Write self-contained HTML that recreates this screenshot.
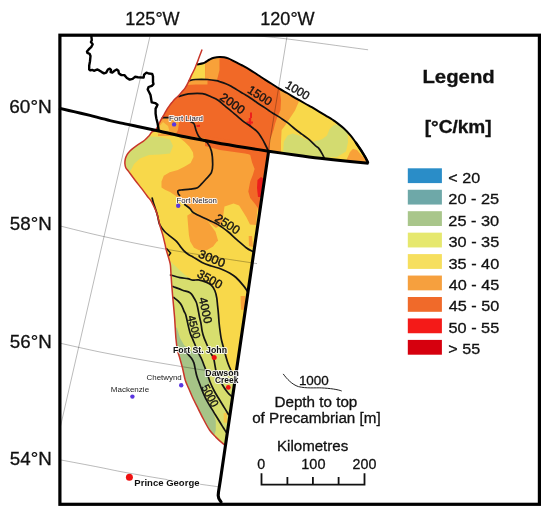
<!DOCTYPE html>
<html><head><meta charset="utf-8"><title>Heat flow map</title>
<style>html,body{margin:0;padding:0;background:#fff;overflow:hidden;}svg{display:block;}</style>
</head><body>
<svg width="550" height="515" viewBox="0 0 550 515">
<defs><clipPath id="rc"><path d="M197.1,64.4 L203.1,63.3 L206.5,61.5 L209.6,59.5 L214.0,57.7 L219.5,56.9 L224.0,57.3 L228.2,58.4 L235.8,62.2 L242.4,65.5 L250.0,69.8 L257.9,75.0 L265.0,79.6 L272.0,84.0 L279.3,88.6 L287.0,93.0 L295.0,97.8 L305.0,103.5 L311.8,107.2 L318.6,111.3 L325.4,115.4 L332.2,119.5 L337.0,122.9 L343.7,128.3 L350.7,135.7 L355.9,142.7 L361.2,150.5 L365.5,157.5 L367.8,162.0 L368.2,163.0 L350.0,161.6 L320.0,158.3 L295.0,155.0 L268.6,151.4 L225.6,444.5 L225.0,444.5 L223.3,443.9 L215.8,437.1 L209.7,430.3 L203.6,419.5 L198.1,408.6 L192.7,397.7 L188.6,388.2 L185.2,380.0 L182.5,368.0 L180.0,359.0 L177.5,350.0 L175.9,338.2 L174.5,316.4 L172.5,294.5 L171.0,274.4 L170.4,265.0 L169.4,260.6 L168.0,255.8 L166.0,249.0 L165.0,244.1 L162.6,234.4 L159.7,224.7 L157.0,213.7 L154.1,206.9 L151.2,201.1 L147.3,196.2 L141.5,188.4 L134.7,179.7 L127.9,170.5 L125.8,167.7 L124.9,163.8 L125.3,159.0 L126.8,155.1 L129.7,151.2 L133.6,147.8 L138.4,144.4 L144.3,140.5 L149.1,135.7 L152.0,131.8 L155.0,130.6 L157.3,127.3 L159.4,123.0 L160.8,120.0 L163.2,116.0 L165.5,111.9 L168.4,107.2 L171.9,102.6 L175.4,98.5 L177.7,96.6 L181.8,91.9 L185.2,87.9 L188.6,81.7 L191.3,75.6 L194.7,68.8 L197.4,62.0 L199.6,56.0 Z"/></clipPath></defs>
<g clip-path="url(#rc)">
<polygon points="100.0,20.0 400.0,20.0 400.0,470.0 100.0,470.0" fill="#f8d84a"/>
<polygon points="150.0,30.0 380.0,30.0 380.0,164.3 368.5,164.3 350.0,162.6 320.0,159.3 295.0,156.0 268.6,152.2 245.0,148.5 215.0,143.5 185.0,137.8 160.0,132.3 140.0,128.0" fill="#f16927"/>
<polygon points="279.0,84.0 281.0,100.0 280.5,110.0 277.0,118.0 275.0,124.0 273.5,130.0 270.0,140.0 269.5,153.0 380.0,175.0 380.0,60.0" fill="#f8a139"/>
<polygon points="298.0,96.0 300.0,99.0 295.0,110.5 289.2,119.2 284.6,126.2 281.6,130.0 281.0,142.0 281.0,155.0 346.0,161.0 350.0,152.0 353.0,148.8 357.0,150.0 362.0,156.0 370.0,162.0 360.0,140.0 340.0,115.0 320.0,100.0" fill="#f8d84a"/>
<polygon points="283.8,141.8 287.6,135.5 292.7,133.5 299.0,135.5 305.5,139.3 313.0,141.8 322.0,139.3 327.0,135.5 329.6,129.1 333.5,125.3 338.5,124.0 343.6,126.5 347.5,130.0 348.0,142.3 346.0,151.4 337.0,157.0 321.0,158.0 297.3,155.0 283.0,153.0" fill="#d3db70"/>
<polygon points="190.0,66.0 205.0,61.0 205.5,79.0 188.0,82.0" fill="#f8d84a"/>
<polygon points="205.0,60.0 219.5,56.0 219.5,70.0 217.0,80.0 205.5,80.0" fill="#f8a139"/>
<polygon points="186.0,80.5 196.0,80.0 207.5,80.2 207.5,84.6 196.0,84.6 186.0,85.0" fill="#f8a139"/>
<polygon points="158.0,124.0 165.0,117.0 177.0,118.0 179.0,123.0 178.0,130.0 175.0,136.0 158.0,136.0" fill="#f8a139"/>
<polygon points="158.0,128.0 163.0,122.0 168.0,126.0 170.0,133.0 158.0,134.0" fill="#f7c848"/>
<polygon points="250.0,112.5 252.0,112.5 252.0,118.0 250.0,118.0" fill="#ec1f1c"/>
<polygon points="248.8,118.0 251.2,118.0 251.2,127.0 248.8,127.0" fill="#ec1f1c"/>
<polygon points="246.5,121.5 253.0,121.5 253.0,123.5 246.5,123.5" fill="#ec1f1c"/>
<polygon points="196.5,125.0 200.0,124.8 200.0,126.8 196.5,127.0" fill="#ec1f1c"/>
<polygon points="146.0,136.0 152.0,136.5 160.0,137.0 170.0,139.5 173.0,146.0 170.0,153.5 160.0,154.5 149.0,155.0 140.0,158.5 134.0,164.0 131.0,170.0 128.0,174.0 123.0,168.0 123.0,158.0 130.0,149.0 138.0,142.0" fill="#d3db70"/>
<polygon points="176.0,134.0 179.0,137.3 184.8,142.0 189.5,146.7 193.0,152.5 193.5,157.1 190.6,163.0 184.8,166.5 177.8,170.0 169.7,172.3 163.8,175.8 161.5,181.6 161.5,187.4 165.0,189.8 170.0,192.0 176.0,196.0 178.6,200.0 185.5,203.0 190.9,210.0 199.1,214.1 208.2,221.8 216.0,228.0 222.0,224.0 224.5,206.4 233.6,203.6 239.1,205.5 246.4,217.3 250.0,224.5 256.0,225.0 262.0,160.0 262.0,147.0" fill="#f8a139"/>
<polygon points="187.3,215.5 191.8,212.7 199.1,213.6 208.2,221.8 215.5,231.8 218.2,240.9 216.9,241.4 213.1,246.5 206.7,250.3 199.1,250.3 194.0,247.7 190.2,241.4 188.9,235.0" fill="#f8a139"/>
<polygon points="205.0,136.0 268.0,146.0 268.0,158.0 245.0,153.5 220.0,150.0 205.0,146.0" fill="#f16927"/>
<polygon points="242.0,148.0 250.2,155.0 252.1,162.6 254.6,168.9 252.7,175.2 250.2,181.5 248.3,191.6 250.2,197.9 255.3,204.2 257.8,208.0 258.4,215.0 270.0,215.0 270.0,146.0" fill="#f16927"/>
<polygon points="257.5,180.0 261.0,177.0 264.0,179.0 263.0,197.0 258.0,197.0 257.0,188.0" fill="#ec1f1c"/>
<polygon points="248.7,236.0 252.0,236.0 253.0,247.0 249.0,246.0" fill="#f8a139"/>
<polygon points="240.6,296.0 245.0,296.0 246.0,309.7 241.0,309.7" fill="#f8a139"/>
<polygon points="166.0,255.0 171.0,262.0 185.0,275.0 193.0,280.0 198.5,280.6 206.7,283.2 211.3,286.0 214.9,291.5 216.8,298.1 217.6,305.9 218.4,313.6 219.1,323.0 220.2,332.0 221.5,340.0 224.9,352.7 227.6,362.2 230.3,369.0 233.0,374.0 236.0,377.0 242.0,380.0 242.0,460.0 150.0,460.0 150.0,255.0" fill="#d7de6e"/>
<polygon points="174.0,326.0 177.0,328.0 180.0,338.0 184.0,345.0 190.0,350.0 198.8,353.5 201.6,359.0 204.0,365.2 206.3,371.4 208.5,377.5 209.5,383.0 205.0,390.0 203.5,393.6 207.7,402.2 211.7,407.0 215.8,421.0 215.8,430.0 214.0,437.0 208.0,442.0 195.0,430.0 185.0,410.0 178.0,390.0 172.0,360.0 172.0,335.0" fill="#a6c487"/>
<polygon points="223.7,413.0 227.0,413.0 227.0,422.7 223.7,422.7" fill="#f7c848"/>
</g>
<path d="M149.8,37 L60,428.5" stroke="#000" stroke-opacity="0.32" stroke-width="0.85" fill="none"/>
<path d="M286.9,37 L268.3,151" stroke="#000" stroke-opacity="0.32" stroke-width="0.85" fill="none"/>
<path d="M250.0,35.3 C256.1,35.9 267.0,36.5 286.7,38.9 C306.4,41.3 354.5,48.0 368.1,49.8" stroke="#000" stroke-opacity="0.32" stroke-width="0.85" fill="none"/>
<path d="M61.0,226.2 C68.1,227.9 87.3,232.9 103.5,236.5 C119.7,240.1 141.1,244.5 158.0,247.7 C174.9,250.9 189.5,253.1 205.0,255.6 C220.5,258.1 242.2,261.4 250.9,262.7 C259.6,264.0 256.0,263.5 257.0,263.6" stroke="#000" stroke-opacity="0.32" stroke-width="0.85" fill="none"/>
<path d="M61.0,343.4 C67.5,344.8 86.8,349.3 100.0,352.0 C113.2,354.7 126.7,357.1 140.0,359.5 C153.3,361.9 168.8,364.4 180.0,366.3 C191.2,368.2 197.5,369.2 207.2,370.6 C216.9,372.1 232.9,374.3 238.0,375.0" stroke="#000" stroke-opacity="0.32" stroke-width="0.85" fill="none"/>
<path d="M61.0,460.0 C67.5,461.2 89.3,465.3 100.0,467.4 C110.7,469.5 113.3,470.3 125.0,472.4 C136.7,474.5 155.0,477.7 170.0,480.0 C185.0,482.3 206.8,485.1 215.0,486.3 C223.2,487.5 218.8,486.9 219.5,487.0" stroke="#000" stroke-opacity="0.32" stroke-width="0.85" fill="none"/>
<path d="M189.3,80.6 C190.3,80.4 192.3,79.7 195.4,79.5 C198.5,79.3 204.2,79.3 207.7,79.5 C211.2,79.7 214.3,80.3 216.4,80.7 C218.5,81.1 218.4,81.2 220.0,81.7 C221.6,82.2 223.9,82.9 225.8,83.7 C227.7,84.5 229.7,85.5 231.6,86.6 C233.5,87.7 235.6,88.9 237.5,90.1 C239.4,91.3 241.2,92.3 243.3,93.6 C245.4,94.9 247.8,96.2 250.0,97.7 C252.2,99.2 254.4,100.8 256.8,102.5 C259.2,104.2 262.5,106.1 264.7,107.6 C266.9,109.1 268.1,110.2 270.0,111.4 C271.9,112.6 273.9,113.7 275.8,114.9 C277.7,116.1 279.7,117.3 281.6,118.6 C283.6,119.9 285.3,121.0 287.5,122.7 C289.7,124.4 292.6,127.1 295.0,129.0 C297.4,130.9 299.5,132.4 301.8,134.1 C304.1,135.8 306.3,137.3 308.6,139.2 C310.9,141.1 313.7,144.2 315.4,145.7 C317.1,147.2 317.7,147.1 318.8,148.4 C319.9,149.8 321.3,152.2 322.2,153.8 C323.1,155.4 323.9,157.3 324.2,158.0" stroke="#141414" stroke-width="1.7" fill="none" stroke-linejoin="round" stroke-linecap="round"/>
<path d="M178.8,96.5 C180.4,96.1 184.5,94.4 188.4,93.9 C192.3,93.4 198.6,93.1 202.4,93.6 C206.2,94.1 208.9,95.9 211.5,97.0 C214.1,98.1 215.9,98.8 218.1,100.3 C220.3,101.8 222.4,103.9 224.6,105.7 C226.8,107.5 229.0,109.4 231.2,111.2 C233.4,113.0 235.5,114.8 237.7,116.6 C239.9,118.4 242.1,120.4 244.3,122.1 C246.5,123.8 248.6,124.9 250.8,126.5 C253.0,128.1 255.6,130.1 257.4,131.9 C259.2,133.8 260.2,135.6 261.5,137.6 C262.8,139.6 263.9,141.8 265.0,144.0 C266.1,146.2 267.8,149.8 268.3,151.0" stroke="#141414" stroke-width="1.7" fill="none" stroke-linejoin="round" stroke-linecap="round"/>
<path d="M162.5,117.6 L169.0,117.6" stroke="#141414" stroke-width="1.7" fill="none" stroke-linejoin="round" stroke-linecap="round"/>
<path d="M190.5,121.6 C191.1,122.0 193.2,122.5 194.1,123.9 C195.0,125.3 195.2,128.0 195.9,130.0 C196.6,132.0 197.5,134.4 198.5,136.0 C199.5,137.6 200.5,138.5 202.0,139.6 C203.5,140.7 205.7,140.8 207.3,142.7 C208.9,144.6 210.5,147.4 211.4,151.0 C212.3,154.6 212.7,160.9 212.7,164.5 C212.7,168.1 212.5,170.3 211.4,172.7 C210.3,175.1 207.6,177.2 206.0,179.0 C204.4,180.8 203.2,182.2 201.8,183.6 C200.4,185.0 199.4,186.8 197.5,187.7 C195.6,188.6 192.9,188.7 190.2,189.1 C187.4,189.5 183.1,189.7 181.0,190.0 C178.9,190.3 178.3,190.2 177.9,190.9 C177.5,191.6 178.1,193.4 178.4,194.1 C178.7,194.8 179.4,195.1 179.6,195.3" stroke="#141414" stroke-width="1.7" fill="none" stroke-linejoin="round" stroke-linecap="round"/>
<path d="M184.7,204.5 C185.6,205.2 188.7,207.4 190.2,208.8 C191.7,210.2 190.9,211.0 193.6,212.7 C196.3,214.4 202.9,217.4 206.4,219.1 C209.9,220.8 212.1,221.5 214.5,222.7 C216.9,223.9 218.7,224.9 221.0,226.5 C223.3,228.1 225.7,229.7 228.4,232.0 C231.1,234.3 234.3,237.5 237.3,240.1 C240.3,242.7 243.6,245.8 246.2,247.7 C248.8,249.6 251.6,250.9 252.7,251.5" stroke="#141414" stroke-width="1.7" fill="none" stroke-linejoin="round" stroke-linecap="round"/>
<path d="M152.2,198.2 C152.4,199.1 153.0,201.7 153.6,203.5 C154.2,205.3 154.8,206.9 155.5,209.0 C156.2,211.1 156.9,213.4 157.6,216.0 C158.3,218.6 158.5,222.1 159.7,224.7 C160.9,227.3 162.8,229.6 164.6,231.5 C166.4,233.4 168.5,234.8 170.4,236.4 C172.3,238.0 174.6,239.6 176.2,241.2 C177.8,242.8 178.8,244.5 180.1,246.1 C181.4,247.7 182.6,249.4 184.0,250.9 C185.4,252.4 187.3,253.8 188.8,254.8 C190.3,255.8 190.8,255.6 193.0,256.9 C195.2,258.2 199.0,260.9 202.1,262.4 C205.2,263.9 208.2,264.9 211.3,266.0 C214.4,267.1 217.3,267.5 220.4,268.7 C223.5,269.9 227.4,271.8 230.0,273.3 C232.6,274.8 233.7,275.4 236.0,277.5 C238.3,279.6 241.7,283.6 243.6,285.9 C245.5,288.2 246.8,290.6 247.5,291.5" stroke="#141414" stroke-width="1.7" fill="none" stroke-linejoin="round" stroke-linecap="round"/>
<path d="M170.5,275.0 C172.1,275.4 177.2,277.0 180.0,277.6 C182.8,278.2 185.4,278.2 187.6,278.6 C189.8,279.0 191.2,280.0 193.0,280.2 C194.8,280.4 196.2,279.5 198.5,279.9 C200.8,280.3 204.6,281.5 206.7,282.4 C208.8,283.3 209.9,283.8 211.3,285.2 C212.7,286.6 214.0,288.5 214.9,290.7 C215.8,292.9 216.4,295.6 216.8,298.1 C217.2,300.6 217.3,303.3 217.6,305.9 C217.9,308.5 218.2,310.8 218.4,313.6 C218.7,316.5 218.8,319.9 219.1,323.0 C219.4,326.1 219.8,329.2 220.2,332.0 C220.6,334.8 220.7,336.6 221.5,340.0 C222.3,343.4 223.9,349.0 224.9,352.7 C225.9,356.4 226.7,359.5 227.6,362.2 C228.5,364.9 229.4,367.0 230.3,369.0 C231.2,371.0 232.1,372.7 233.0,374.0 C233.9,375.3 235.5,376.5 236.0,377.0" stroke="#141414" stroke-width="1.7" fill="none" stroke-linejoin="round" stroke-linecap="round"/>
<path d="M173.0,286.5 C174.6,287.1 179.7,289.2 182.5,290.2 C185.3,291.2 188.2,291.6 190.0,292.7 C191.8,293.8 192.1,294.9 193.1,296.5 C194.1,298.1 195.4,300.1 196.2,302.0 C197.0,303.9 197.3,305.9 197.8,308.2 C198.3,310.5 198.8,313.5 199.3,316.0 C199.8,318.5 200.4,320.5 200.9,323.0 C201.4,325.5 201.6,328.4 202.1,330.8 C202.6,333.2 203.3,335.7 204.0,337.6 C204.7,339.6 204.9,339.9 206.0,342.5 C207.1,345.1 209.6,350.6 210.8,353.2 C212.1,355.8 212.8,356.2 213.5,358.0 C214.2,359.8 214.2,361.5 214.7,363.8 C215.1,366.1 215.6,369.9 216.2,371.6 C216.8,373.3 216.9,371.8 218.0,374.0 C219.1,376.2 220.8,381.9 222.5,385.0 C224.2,388.1 226.5,391.0 227.9,392.8 C229.3,394.6 230.3,395.2 231.2,396.0 C232.0,396.8 232.7,397.2 233.0,397.5" stroke="#141414" stroke-width="1.7" fill="none" stroke-linejoin="round" stroke-linecap="round"/>
<path d="M173.7,297.5 C174.4,298.1 176.7,299.6 178.0,300.9 C179.3,302.2 180.5,303.5 181.5,305.2 C182.5,306.9 183.4,309.7 184.1,311.3 C184.8,312.9 185.2,312.9 185.8,315.0 C186.4,317.1 187.2,321.1 187.9,324.1 C188.6,327.1 189.4,330.7 190.2,333.2 C191.0,335.7 191.9,337.2 192.8,339.3 C193.7,341.4 194.5,343.6 195.5,346.0 C196.5,348.4 197.8,351.3 198.8,353.5 C199.8,355.7 200.7,357.1 201.6,359.0 C202.5,360.9 203.2,363.1 204.0,365.2 C204.8,367.3 205.6,369.3 206.3,371.4 C207.1,373.4 207.8,375.6 208.5,377.5 C209.2,379.4 209.6,380.8 210.5,383.0 C211.4,385.2 212.7,387.9 214.0,390.5 C215.3,393.1 217.0,395.7 218.6,398.3 C220.2,400.9 221.9,403.7 223.3,406.0 C224.7,408.3 226.2,410.8 227.1,412.2 C228.0,413.6 228.3,414.1 228.5,414.5" stroke="#141414" stroke-width="1.7" fill="none" stroke-linejoin="round" stroke-linecap="round"/>
<path d="M186.0,351.5 C186.2,351.8 186.4,352.4 187.3,353.5 C188.2,354.6 190.4,356.6 191.5,358.2 C192.6,359.8 193.2,360.9 193.9,362.9 C194.6,364.8 194.9,367.7 195.4,369.9 C195.9,372.1 196.2,373.9 196.8,376.0 C197.4,378.1 198.1,380.0 199.2,382.8 C200.2,385.6 201.7,389.6 203.1,392.8 C204.5,396.0 206.1,399.4 207.7,402.2 C209.2,405.0 211.1,407.8 212.4,409.9 C213.7,412.0 214.3,413.1 215.5,415.0 C216.7,416.9 218.2,419.3 219.5,421.5 C220.8,423.7 222.4,426.2 223.5,428.0 C224.6,429.8 225.6,431.3 226.0,432.0" stroke="#141414" stroke-width="1.7" fill="none" stroke-linejoin="round" stroke-linecap="round"/>
<path d="M197.1,64.4 C198.1,64.2 201.5,63.8 203.1,63.3 C204.7,62.8 205.4,62.1 206.5,61.5 C207.6,60.9 208.3,60.1 209.6,59.5 C210.8,58.9 212.3,58.1 214.0,57.7 C215.7,57.3 217.8,57.0 219.5,56.9 C221.2,56.8 222.6,57.0 224.0,57.3 C225.4,57.5 226.2,57.6 228.2,58.4 C230.2,59.2 233.4,61.0 235.8,62.2 C238.2,63.4 240.0,64.2 242.4,65.5 C244.8,66.8 247.4,68.2 250.0,69.8 C252.6,71.4 255.4,73.4 257.9,75.0 C260.4,76.6 262.6,78.1 265.0,79.6 C267.4,81.1 269.6,82.5 272.0,84.0 C274.4,85.5 276.8,87.1 279.3,88.6 C281.8,90.1 284.4,91.5 287.0,93.0 C289.6,94.5 292.0,96.0 295.0,97.8 C298.0,99.5 302.2,101.9 305.0,103.5 C307.8,105.1 309.5,105.9 311.8,107.2 C314.1,108.5 316.3,109.9 318.6,111.3 C320.9,112.7 323.1,114.0 325.4,115.4 C327.7,116.8 330.3,118.2 332.2,119.5 C334.1,120.8 335.1,121.4 337.0,122.9 C338.9,124.4 341.4,126.2 343.7,128.3 C346.0,130.4 348.7,133.3 350.7,135.7 C352.7,138.1 354.1,140.2 355.9,142.7 C357.6,145.2 359.6,148.0 361.2,150.5 C362.8,153.0 364.4,155.6 365.5,157.5 C366.6,159.4 367.4,161.2 367.8,162.0" stroke="#000" stroke-width="2" fill="none" stroke-linejoin="round"/>
<path d="M355.9,142.7 L361.2,150.5 L365.5,157.5 L368,162.6" stroke="#000" stroke-width="2.4" fill="none" stroke-linecap="round"/>
<path d="M166.3,248.2 L170.6,253 L168.3,256.4" stroke="#111" stroke-width="1.5" fill="none"/>
<path d="M202.1,49.6 C201.7,50.7 200.4,53.9 199.6,56.0 C198.8,58.1 198.2,59.9 197.4,62.0 C196.6,64.1 195.7,66.5 194.7,68.8 C193.7,71.1 192.3,73.4 191.3,75.6 C190.3,77.8 189.6,79.7 188.6,81.7 C187.6,83.8 186.3,86.2 185.2,87.9 C184.1,89.6 183.1,90.5 181.8,91.9 C180.6,93.4 178.8,95.5 177.7,96.6 C176.6,97.7 176.4,97.5 175.4,98.5 C174.4,99.5 173.1,101.1 171.9,102.6 C170.7,104.0 169.5,105.7 168.4,107.2 C167.3,108.8 166.4,110.4 165.5,111.9 C164.6,113.4 164.0,114.7 163.2,116.0 C162.4,117.3 161.4,118.8 160.8,120.0 C160.2,121.2 160.0,121.8 159.4,123.0 C158.8,124.2 158.0,126.0 157.3,127.3 C156.6,128.6 155.9,129.8 155.0,130.6 C154.1,131.3 153.0,131.0 152.0,131.8 C151.0,132.7 150.4,134.2 149.1,135.7 C147.8,137.1 146.1,139.1 144.3,140.5 C142.5,141.9 140.2,143.2 138.4,144.4 C136.6,145.6 135.1,146.7 133.6,147.8 C132.1,148.9 130.8,150.0 129.7,151.2 C128.6,152.4 127.5,153.8 126.8,155.1 C126.1,156.4 125.6,157.6 125.3,159.0 C125.0,160.4 124.8,162.4 124.9,163.8 C125.0,165.2 125.3,166.6 125.8,167.7 C126.3,168.8 126.4,168.5 127.9,170.5 C129.4,172.5 132.4,176.7 134.7,179.7 C137.0,182.7 139.4,185.7 141.5,188.4 C143.6,191.2 145.7,194.1 147.3,196.2 C148.9,198.3 150.1,199.3 151.2,201.1 C152.3,202.9 153.1,204.8 154.1,206.9 C155.1,209.0 156.1,210.7 157.0,213.7 C157.9,216.7 158.8,221.2 159.7,224.7 C160.6,228.1 161.7,231.2 162.6,234.4 C163.5,237.6 164.4,241.7 165.0,244.1 C165.6,246.5 165.5,247.1 166.0,249.0 C166.5,250.9 167.4,253.9 168.0,255.8 C168.6,257.7 169.0,259.1 169.4,260.6 C169.8,262.1 170.1,262.7 170.4,265.0 C170.7,267.3 170.7,269.5 171.0,274.4 C171.3,279.3 171.9,287.5 172.5,294.5 C173.1,301.5 173.9,309.1 174.5,316.4 C175.1,323.7 175.4,332.6 175.9,338.2 C176.4,343.8 176.8,346.5 177.5,350.0 C178.2,353.5 179.2,356.0 180.0,359.0 C180.8,362.0 181.6,364.5 182.5,368.0 C183.4,371.5 184.2,376.6 185.2,380.0 C186.2,383.4 187.3,385.2 188.6,388.2 C189.8,391.1 191.1,394.3 192.7,397.7 C194.3,401.1 196.3,405.0 198.1,408.6 C199.9,412.2 201.7,415.9 203.6,419.5 C205.5,423.1 207.7,427.4 209.7,430.3 C211.7,433.2 213.5,434.8 215.8,437.1 C218.1,439.4 221.8,442.7 223.3,443.9 C224.8,445.1 224.7,444.4 225.0,444.5" stroke="#c8362a" stroke-width="1.5" fill="none" stroke-linejoin="round"/>
<path d="M59.0,108.1 C61.7,108.7 69.8,110.7 75.0,111.9 C80.2,113.1 84.2,114.0 90.0,115.4 C95.8,116.9 104.2,119.2 110.0,120.6 C115.8,122.0 120.0,122.8 125.0,123.9 C130.0,125.0 134.2,125.8 140.0,127.0 C145.8,128.2 152.5,129.7 160.0,131.3 C167.5,132.9 175.8,134.9 185.0,136.8 C194.2,138.7 205.0,140.7 215.0,142.5 C225.0,144.3 236.1,146.1 245.0,147.5 C253.9,148.9 260.3,149.9 268.6,151.2 C276.9,152.4 286.4,153.8 295.0,155.0 C303.6,156.2 310.8,157.2 320.0,158.3 C329.2,159.4 341.9,160.8 350.0,161.6 C358.1,162.4 365.4,163.0 368.5,163.3" stroke="#000" stroke-width="3" fill="none" stroke-linejoin="round"/>
<path d="M268.6,151.4 L220.4,480.0 L218.5,492.0 L218.2,495.5 L218.8,498.5 L220.3,500.8 L221.6,503.0" stroke="#000" stroke-width="3.1" fill="none" stroke-linejoin="round"/>
<path d="M91.4,35.0 L91.4,36.7 L91.8,40.2 L90.9,42.0 L92.7,44.2 L91.4,46.8 L88.7,49.4 L87.0,51.6 L87.4,52.9 L89.6,53.8 L90.5,56.0 L90.0,61.2 L89.2,65.6 L89.2,69.5 L90.5,70.4 L92.2,69.9 L94.4,70.8 L96.2,69.9 L97.5,69.5 L99.2,70.4 L101.8,72.1 L104.0,73.4 L106.2,72.6 L107.9,69.5 L109.7,68.6 L111.0,69.9 L110.6,72.1 L112.3,72.6 L114.5,70.8 L116.7,69.5 L118.4,70.8 L118.9,73.4 L119.5,73.9 L121.5,75.1 L124.4,75.1 L126.9,78.0 L129.7,79.6 L132.6,78.8 L135.0,76.8 L137.9,77.2 L143.6,77.6 L144.1,74.7 L146.5,72.7 L148.6,73.5 L152.2,73.9 L153.0,76.4 L153.0,82.1 L153.5,84.1 L151.8,85.8 L148.6,87.0 L147.7,89.5 L149.4,92.7 L150.5,95.0 L151.3,99.7 L151.7,102.4 L155.2,103.1 L157.5,104.7 L156.7,106.6 L155.6,108.6 L155.6,113.6 L156.3,118.3 L157.5,122.9 L158.3,127.6 L158.7,131.0" stroke="#000" stroke-width="2.4" fill="none" stroke-linejoin="round"/>
<rect x="59.9" y="35.2" width="479.5" height="469.1" fill="none" stroke="#000" stroke-width="3.2"/>
<text transform="translate(125.24,25.10) scale(0.975,1)" font-family="Liberation Sans, Arial, Helvetica, sans-serif" font-size="18.55" fill="#111" stroke="#111" stroke-width="0.3">125°W</text>
<text transform="translate(260.24,25.10) scale(0.975,1)" font-family="Liberation Sans, Arial, Helvetica, sans-serif" font-size="18.55" fill="#111" stroke="#111" stroke-width="0.3">120°W</text>
<text transform="translate(9.25,112.80) scale(1.018,1)" font-family="Liberation Sans, Arial, Helvetica, sans-serif" font-size="18.69" fill="#111" stroke="#111" stroke-width="0.3">60°N</text>
<text transform="translate(9.85,229.90) scale(1.011,1)" font-family="Liberation Sans, Arial, Helvetica, sans-serif" font-size="18.55" fill="#111" stroke="#111" stroke-width="0.3">58°N</text>
<text transform="translate(9.85,347.60) scale(1.011,1)" font-family="Liberation Sans, Arial, Helvetica, sans-serif" font-size="18.55" fill="#111" stroke="#111" stroke-width="0.3">56°N</text>
<text transform="translate(9.85,464.60) scale(1.035,1)" font-family="Liberation Sans, Arial, Helvetica, sans-serif" font-size="18.11" fill="#111" stroke="#111" stroke-width="0.3">54°N</text>
<text transform="translate(422.43,83.30) scale(1.080,1)" font-family="Liberation Sans, Arial, Helvetica, sans-serif" font-size="18.84" font-weight="bold" fill="#111" stroke="#111" stroke-width="0.3">Legend</text>
<text transform="translate(424.65,132.70) scale(1.064,1)" font-family="Liberation Sans, Arial, Helvetica, sans-serif" font-size="17.96" font-weight="bold" fill="#111" stroke="#111" stroke-width="0.3">[°C/km]</text>
<rect x="407.8" y="168.30" width="34.1" height="14.8" fill="#2a8dc8"/>
<text transform="translate(448.29,182.70) scale(1.061,1)" font-family="Liberation Sans, Arial, Helvetica, sans-serif" font-size="15.20" fill="#111" stroke="#111" stroke-width="0.3">&lt; 20</text>
<rect x="407.8" y="189.75" width="34.1" height="14.8" fill="#6ea8a8"/>
<text transform="translate(448.28,204.15) scale(1.077,1)" font-family="Liberation Sans, Arial, Helvetica, sans-serif" font-size="15.20" fill="#111" stroke="#111" stroke-width="0.3">20 - 25</text>
<rect x="407.8" y="211.20" width="34.1" height="14.8" fill="#a9c68b"/>
<text transform="translate(448.28,225.60) scale(1.077,1)" font-family="Liberation Sans, Arial, Helvetica, sans-serif" font-size="15.20" fill="#111" stroke="#111" stroke-width="0.3">25 - 30</text>
<rect x="407.8" y="232.65" width="34.1" height="14.8" fill="#e6e86e"/>
<text transform="translate(448.49,247.05) scale(1.073,1)" font-family="Liberation Sans, Arial, Helvetica, sans-serif" font-size="15.20" fill="#111" stroke="#111" stroke-width="0.3">30 - 35</text>
<rect x="407.8" y="254.10" width="34.1" height="14.8" fill="#f6df5e"/>
<text transform="translate(448.49,268.50) scale(1.072,1)" font-family="Liberation Sans, Arial, Helvetica, sans-serif" font-size="15.20" fill="#111" stroke="#111" stroke-width="0.3">35 - 40</text>
<rect x="407.8" y="275.55" width="34.1" height="14.8" fill="#f6a03e"/>
<text transform="translate(448.73,289.95) scale(1.068,1)" font-family="Liberation Sans, Arial, Helvetica, sans-serif" font-size="15.20" fill="#111" stroke="#111" stroke-width="0.3">40 - 45</text>
<rect x="407.8" y="297.00" width="34.1" height="14.8" fill="#f06a2a"/>
<text transform="translate(448.74,311.40) scale(1.067,1)" font-family="Liberation Sans, Arial, Helvetica, sans-serif" font-size="15.20" fill="#111" stroke="#111" stroke-width="0.3">45 - 50</text>
<rect x="407.8" y="318.45" width="34.1" height="14.8" fill="#f41a18"/>
<text transform="translate(448.45,332.85) scale(1.074,1)" font-family="Liberation Sans, Arial, Helvetica, sans-serif" font-size="15.20" fill="#111" stroke="#111" stroke-width="0.3">50 - 55</text>
<rect x="407.8" y="339.90" width="34.1" height="14.8" fill="#d6000e"/>
<text transform="translate(448.29,354.30) scale(1.062,1)" font-family="Liberation Sans, Arial, Helvetica, sans-serif" font-size="15.20" fill="#111" stroke="#111" stroke-width="0.3">&gt; 55</text>
<text transform="translate(298.89,385.40) scale(0.990,1)" font-family="Liberation Sans, Arial, Helvetica, sans-serif" font-size="13.60" fill="#111" stroke="#111" stroke-width="0.3">1000</text>
<text transform="translate(274.44,407.00) scale(1.063,1)" font-family="Liberation Sans, Arial, Helvetica, sans-serif" font-size="14.33" fill="#111" stroke="#111" stroke-width="0.3">Depth to top</text>
<text transform="translate(252.15,422.80) scale(1.029,1)" font-family="Liberation Sans, Arial, Helvetica, sans-serif" font-size="14.80" fill="#111" stroke="#111" stroke-width="0.3">of Precambrian [m]</text>
<text transform="translate(276.95,451.10) scale(1.054,1)" font-family="Liberation Sans, Arial, Helvetica, sans-serif" font-size="14.33" fill="#111" stroke="#111" stroke-width="0.3">Kilometres</text>
<text transform="translate(257.23,468.70) scale(0.994,1)" font-family="Liberation Sans, Arial, Helvetica, sans-serif" font-size="14.33" fill="#111" stroke="#111" stroke-width="0.3">0</text>
<text transform="translate(301.31,468.70) scale(1.010,1)" font-family="Liberation Sans, Arial, Helvetica, sans-serif" font-size="14.33" fill="#111" stroke="#111" stroke-width="0.3">100</text>
<text transform="translate(352.59,468.70) scale(0.994,1)" font-family="Liberation Sans, Arial, Helvetica, sans-serif" font-size="14.33" fill="#111" stroke="#111" stroke-width="0.3">200</text>
<path d="M261.5,473.3 L261.5,484.7 L364.5,484.7 L364.5,473.3 M287.4,477.1 L287.4,484.7 M312.9,477.1 L312.9,484.7 M338.6,477.1 L338.6,484.7" stroke="#111" stroke-width="1.8" fill="none"/>
<path d="M283.2,373.9 C287,379 292,384.5 298.4,386.6 C306,388.6 316,387.6 321.4,387.9 C330,388.3 338,389.5 341.7,391" stroke="#222" stroke-width="1" fill="none"/>
<text transform="translate(284.41,87.13) rotate(30.4) scale(0.966,1)" font-family="Liberation Sans, Arial, Helvetica, sans-serif" font-size="12.00" fill="#141414" stroke="#141414" stroke-width="0.4">1000</text>
<text transform="translate(246.83,92.06) rotate(32.3) scale(0.970,1)" font-family="Liberation Sans, Arial, Helvetica, sans-serif" font-size="12.00" fill="#141414" stroke="#141414" stroke-width="0.4">1500</text>
<text transform="translate(219.07,98.92) rotate(35) scale(1.021,1)" font-family="Liberation Sans, Arial, Helvetica, sans-serif" font-size="12.00" fill="#141414" stroke="#141414" stroke-width="0.4">2000</text>
<text transform="translate(213.95,220.49) rotate(32) scale(0.993,1)" font-family="Liberation Sans, Arial, Helvetica, sans-serif" font-size="12.20" fill="#141414" stroke="#141414" stroke-width="0.4">2500</text>
<text transform="translate(197.62,257.08) rotate(22.4) scale(1.016,1)" font-family="Liberation Sans, Arial, Helvetica, sans-serif" font-size="12.20" fill="#141414" stroke="#141414" stroke-width="0.4">3000</text>
<text transform="translate(196.27,276.29) rotate(29) scale(0.978,1)" font-family="Liberation Sans, Arial, Helvetica, sans-serif" font-size="12.20" fill="#141414" stroke="#141414" stroke-width="0.4">3500</text>
<text transform="translate(198.63,298.19) rotate(77) scale(1.014,1)" font-family="Liberation Sans, Arial, Helvetica, sans-serif" font-size="11.80" fill="#141414" stroke="#141414" stroke-width="0.4">4000</text>
<text transform="translate(187.55,316.42) rotate(75) scale(0.976,1)" font-family="Liberation Sans, Arial, Helvetica, sans-serif" font-size="10.80" fill="#141414" stroke="#141414" stroke-width="0.4">4500</text>
<text transform="translate(201.08,387.34) rotate(62.4) scale(0.884,1)" font-family="Liberation Sans, Arial, Helvetica, sans-serif" font-size="11.80" fill="#141414" stroke="#141414" stroke-width="0.4">5000</text>
<text transform="translate(169.05,120.70) scale(0.983,1)" font-family="Liberation Sans, Arial, Helvetica, sans-serif" font-size="8.07" fill="#1a1a2a" stroke="#fff" stroke-opacity="0.85" stroke-width="2" paint-order="stroke" stroke-linejoin="round">Fort Liard</text>
<text transform="translate(176.55,202.70) scale(1.066,1)" font-family="Liberation Sans, Arial, Helvetica, sans-serif" font-size="7.35" fill="#1a1a2a" stroke="#fff" stroke-opacity="0.85" stroke-width="2" paint-order="stroke" stroke-linejoin="round">Fort Nelson</text>
<text transform="translate(146.50,380.40) scale(0.984,1)" font-family="Liberation Sans, Arial, Helvetica, sans-serif" font-size="8.07" fill="#222" stroke="#fff" stroke-opacity="0.85" stroke-width="2" paint-order="stroke" stroke-linejoin="round">Chetwynd</text>
<text transform="translate(110.74,392.00) scale(1.014,1)" font-family="Liberation Sans, Arial, Helvetica, sans-serif" font-size="7.93" fill="#222" stroke="#fff" stroke-opacity="0.85" stroke-width="2" paint-order="stroke" stroke-linejoin="round">Mackenzie</text>
<text transform="translate(173.01,353.10) scale(0.966,1)" font-family="Liberation Sans, Arial, Helvetica, sans-serif" font-size="9.09" font-weight="bold" fill="#111" stroke="#fff" stroke-opacity="0.85" stroke-width="2" paint-order="stroke" stroke-linejoin="round">Fort St. John</text>
<text transform="translate(205.31,375.60) scale(0.978,1)" font-family="Liberation Sans, Arial, Helvetica, sans-serif" font-size="8.95" font-weight="bold" fill="#111" stroke="#fff" stroke-opacity="0.85" stroke-width="2" paint-order="stroke" stroke-linejoin="round">Dawson</text>
<text transform="translate(215.07,383.30) scale(0.982,1)" font-family="Liberation Sans, Arial, Helvetica, sans-serif" font-size="8.51" font-weight="bold" fill="#111" stroke="#fff" stroke-opacity="0.85" stroke-width="2" paint-order="stroke" stroke-linejoin="round">Creek</text>
<text transform="translate(134.36,485.90) scale(0.987,1)" font-family="Liberation Sans, Arial, Helvetica, sans-serif" font-size="9.67" font-weight="bold" fill="#111" stroke="#fff" stroke-opacity="0.85" stroke-width="2" paint-order="stroke" stroke-linejoin="round">Prince George</text>
<circle cx="174.1" cy="124.4" r="2.2" fill="#5a36e0"/>
<circle cx="178.2" cy="205.8" r="2.2" fill="#5a36e0"/>
<circle cx="181.2" cy="385.3" r="2.2" fill="#5a36e0"/>
<circle cx="132.4" cy="396.6" r="2.2" fill="#5a36e0"/>
<circle cx="214.2" cy="357.5" r="2.5" fill="#ee1111"/>
<circle cx="228.3" cy="387.4" r="2.4" fill="#ee1111"/>
<circle cx="129.4" cy="477.3" r="3.5" fill="#ee1111"/>
</svg>
</body></html>
